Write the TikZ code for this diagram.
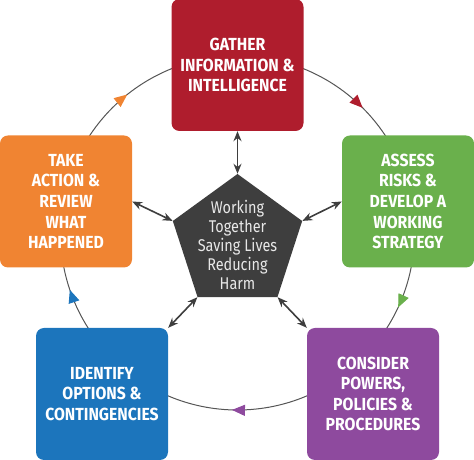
\documentclass[tikz,border=0pt]{standalone}
\usepackage{fontspec}
\setmainfont{Fira Sans}[FakeStretch=0.9]
\newfontfamily\mottofont{Fira Sans}[FakeStretch=0.85]
\usetikzlibrary{shapes}
\usetikzlibrary{positioning}
\usetikzlibrary{arrows.meta}
\usetikzlibrary{decorations.markings}
\definecolor{cyred}{RGB}{175,29,45}
\definecolor{cygreen}{RGB}{106,176,76}
\definecolor{cypurple}{RGB}{142,74,158}
\definecolor{cyblue}{RGB}{28,117,188}
\definecolor{cyorange}{RGB}{240,132,50}
\definecolor{hubgray}{RGB}{62,62,62}
\definecolor{hubtext}{RGB}{232,232,232}
\definecolor{ringgray}{RGB}{85,85,85}
\tikzstyle{cbox}    = [minimum width=132pt, minimum height=132pt, rounded corners=8pt, inner sep=0pt,
                       align=center, text=white, font=\bfseries\fontsize{17.5}{20.6}\selectfont]
\tikzstyle{cred}    = [cbox, fill=cyred]
\tikzstyle{cgreen}  = [cbox, fill=cygreen]
\tikzstyle{cpurple} = [cbox, fill=cypurple]
\tikzstyle{cblue}   = [cbox, fill=cyblue]
\tikzstyle{corange} = [cbox, fill=cyorange]
\tikzstyle{hub}     = [regular polygon, regular polygon sides=5, minimum size=136pt, inner sep=0pt, fill=hubgray]
\tikzstyle{motto}   = [align=center, text=hubtext, font=\mottofont\fontsize{17}{19}\selectfont]
\tikzstyle{ring}    = [draw=ringgray, line width=1pt]
\tikzstyle{link}    = [draw=hubgray, line width=1.6pt, {Stealth[length=10pt,width=8pt]}-{Stealth[length=10pt,width=8pt]}]

\begin{document}
\begin{tikzpicture}[x=1pt, y=1pt]
  \useasboundingbox (0,0) rectangle (474,460);
  \coordinate (middle) at (237.5,227);
  % cycle round the five steps
  \draw[ring, postaction={decorate}, decoration={markings,
      mark=at position 0.125 with {\arrow{Triangle[length=13pt,width=11pt,color=cyred]}},
      mark=at position 0.319 with {\arrow{Triangle[length=13pt,width=11pt,color=cygreen]}},
      mark=at position 0.505 with {\arrow{Triangle[length=13pt,width=11pt,color=cypurple]}},
      mark=at position 0.698 with {\arrow{Triangle[length=13pt,width=11pt,color=cyblue]}},
      mark=at position 0.893 with {\arrow{Triangle[length=13pt,width=11pt,color=cyorange]}}}]
    (middle) ++(90:177pt) arc[start angle=90, end angle=-270, radius=177pt];

  \node[cred]    (gather)   at (237.5,395) {GATHER\\INFORMATION \&\\INTELLIGENCE};
  \node[cgreen]  (assess)   at (408,258.5) {ASSESS\\RISKS \&\\DEVELOP A\\WORKING\\STRATEGY};
  \node[cpurple] (consider) at (373,66)    {CONSIDER\\POWERS,\\POLICIES \&\\PROCEDURES};
  \node[cblue]   (identify) at (102,66)    {IDENTIFY\\OPTIONS \&\\CONTINGENCIES};
  \node[corange] (take)     at (66,258.5)  {TAKE\\ACTION \&\\REVIEW\\WHAT\\HAPPENED};

  \node[hub] (hub) at (237.5,218) {};
  \node[motto] (words) at ([yshift=-3pt]hub.center) {Working\\Together\\Saving Lives\\Reducing\\Harm};

  \draw[link] (hub.corner 1) -- (gather.south);
  \draw[link] (hub.corner 5) -- (assess.west);
  \draw[link] (hub.corner 4) -- (consider.north west);
  \draw[link] (hub.corner 3) -- (identify.north east);
  \draw[link] (hub.corner 2) -- (take.east);
\end{tikzpicture}
\end{document}
